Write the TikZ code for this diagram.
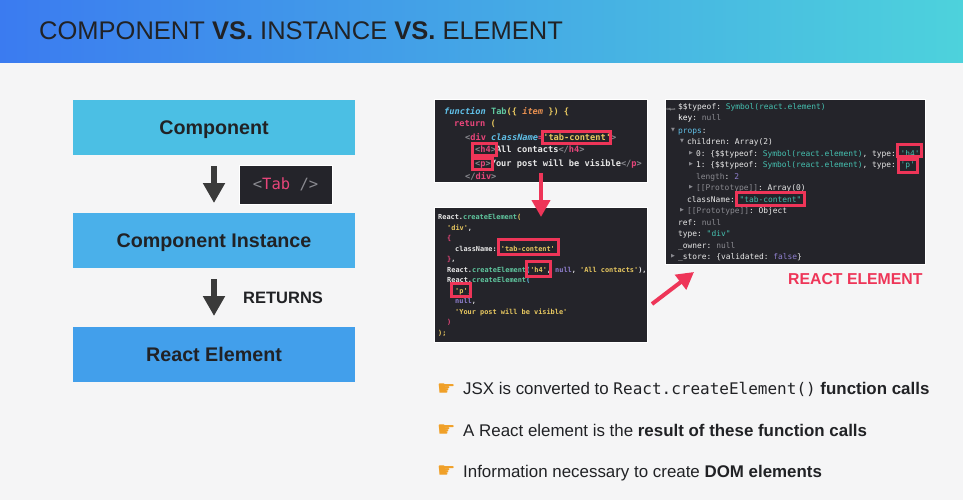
\documentclass[tikz,border=0pt]{standalone}
\usepackage{fontspec}
\setmainfont{Liberation Sans}
\setmonofont{DejaVu Sans Mono}
\newfontfamily\handfont{DejaVu Sans}
\usetikzlibrary{arrows.meta,positioning}
\definecolor{pagebg}{HTML}{F5F5F6}
\definecolor{inkdark}{HTML}{212225}
\definecolor{arrowdark}{HTML}{3A3A3A}
\definecolor{codebg}{HTML}{24242A}
\definecolor{redmark}{HTML}{EE3558}
\definecolor{handcol}{HTML}{F0A028}
\definecolor{headleft}{HTML}{3B7BF0}
\definecolor{headright}{HTML}{4DD2DC}
\definecolor{boxone}{HTML}{4BBFE4}
\definecolor{boxtwo}{HTML}{4AB0EA}
\definecolor{boxthree}{HTML}{429FEB}
\definecolor{codewhite}{HTML}{E8E8E8}
\definecolor{codeyellow}{HTML}{E8C860}
\definecolor{codegreen}{HTML}{60C8A0}
\definecolor{codepink}{HTML}{E8457A}
\definecolor{codeteal}{HTML}{45C0B0}
\definecolor{codegrey}{HTML}{8A8A90}
\definecolor{codeblue}{HTML}{60C0E8}
\definecolor{codeviolet}{HTML}{9080D0}
\definecolor{codeorange}{HTML}{E89050}
\tikzset{
	stagebox/.style={minimum width=282pt,minimum height=55pt,inner sep=0pt,text height=16pt,text depth=2pt,font=\bfseries\fontsize{19.7}{19.7}\selectfont,text=inkdark},
	codepanel/.style={draw=white,line width=1pt,fill=codebg,inner sep=0pt},
	codeline/.style={anchor=base west,inner sep=0pt,font=\ttfamily\bfseries\fontsize{#1}{#1}\selectfont,text=codewhite},
	objline/.style={anchor=base west,inner sep=0pt,font=\ttfamily\fontsize{7.9}{7.9}\selectfont,text=codewhite},
	treemark/.style={inner sep=0pt,font=\handfont\fontsize{5}{5}\selectfont,text=codegrey},
	markbox/.style={draw=redmark,line width=2.7pt,inner sep=0pt},
	flowarrow/.style={draw=arrowdark,line width=5.5pt,-{Triangle[length=20pt,width=21pt]}},
	redarrow/.style={draw=redmark,line width=4pt,-{Triangle[length=17pt,width=18pt]}},
	bullettext/.style={anchor=base west,inner sep=0pt,font=\fontsize{16.9}{16.9}\selectfont,text=inkdark},
	handmark/.style={anchor=base west,inner sep=0pt,font=\handfont\fontsize{20.5}{20.5}\selectfont,text=handcol}
}
\begin{document}
\begin{tikzpicture}[x=1pt,y=-1pt]
	\useasboundingbox (0,0) rectangle (963,500);
	\fill[pagebg] (0,0) rectangle (963,500);
	\shade[left color=headleft,right color=headright] (0,0) rectangle (963,63);
	\node[anchor=base west,inner sep=0pt,text=inkdark,font=\fontsize{25.5}{25.5}\selectfont] (title) at (39,39.5) {COMPONENT \textbf{VS.} INSTANCE \textbf{VS.} ELEMENT};
	% left column
	\node[stagebox,fill=boxone] (component) at (214,127.5) {Component};
	\node[stagebox,fill=boxtwo] (instance) at (214,240.5) {Component Instance};
	\node[stagebox,fill=boxthree] (element) at (214,354) {React Element};
	\coordinate (a1s) at (214,166);
	\coordinate (a1e) at (214,203);
	\coordinate (a2s) at (214,279);
	\coordinate (a2e) at (214,316);
	\draw[flowarrow] (a1s) -- (a1e);
	\draw[flowarrow] (a2s) -- (a2e);
	\node[codepanel,minimum width=93pt,minimum height=39pt,font=\ttfamily\fontsize{15.5}{15.5}\selectfont,text=codegrey] (tabtag) at (285.5,184.5) {<\textcolor{codepink}{Tab} />};
	\node[anchor=base west,inner sep=0pt,font=\bfseries\fontsize{16.5}{16.5}\selectfont,text=inkdark] (returns) at (243,303) {RETURNS};
	% code panels
	\node[codepanel,minimum width=213pt,minimum height=82pt] (jsxpanel) at (541,141) {};
	\node[codepanel,minimum width=213pt,minimum height=135pt] (callpanel) at (541,274.5) {};
	\node[codepanel,minimum width=260pt,minimum height=164pt] (objpanel) at (795,182) {};
	% jsx
	\node[codeline=8.65] (j1) at (444,114) {\textit{\textcolor{codeblue}{function}} \textcolor{codegreen}{Tab}\textcolor{codeyellow}{(\{} \textcolor{codeorange}{\textit{item}} \textcolor{codeyellow}{\}) \{}};
	\node[codeline=8.65] (j2) at (454,127) {\textcolor{codepink}{return} \textcolor{codeyellow}{(}};
	\node[codeline=8.65] (j3) at (465,140) {\textcolor{codegrey}{<}\textcolor{codepink}{div} \textit{\textcolor{codeblue}{className}}\textcolor{codepink}{=}\textcolor{codeyellow}{'tab-content'}\textcolor{codegrey}{>}};
	\node[codeline=8.65] (j4) at (475,153) {\textcolor{codegrey}{<}\textcolor{codepink}{h4}\textcolor{codegrey}{>}All contacts\textcolor{codegrey}{</}\textcolor{codepink}{h4}\textcolor{codegrey}{>}};
	\node[codeline=8.65] (j5) at (475,166) {\textcolor{codegrey}{<}\textcolor{codepink}{p}\textcolor{codegrey}{>}Your post will be visible\textcolor{codegrey}{</}\textcolor{codepink}{p}\textcolor{codegrey}{>}};
	\node[codeline=8.65] (j6) at (465,179) {\textcolor{codegrey}{</}\textcolor{codepink}{div}\textcolor{codegrey}{>}};
	\node[markbox,minimum width=68pt,minimum height=12pt] (jtab) at (576.5,137.5) {};
	\node[markbox,minimum width=24pt,minimum height=12pt] (jh4) at (484.5,149.5) {};
	\node[markbox,minimum width=20pt,minimum height=11pt] (jp) at (482.5,164) {};
	% createElement
	\node[codeline=6.9] (c1) at (438,219) {React.\textcolor{codegreen}{createElement}\textcolor{codeyellow}{(}};
	\node[codeline=6.9] (c2) at (447,230) {\textcolor{codeyellow}{'div'},};
	\node[codeline=6.9] (c3) at (447,240) {\textcolor{codepink}{\{}};
	\node[codeline=6.9] (c4) at (455,251) {className: \textcolor{codeyellow}{'tab-content'}};
	\node[codeline=6.9] (c5) at (447,261) {\textcolor{codepink}{\}},};
	\node[codeline=6.9] (c6) at (447,272) {React.\textcolor{codegreen}{createElement}\textcolor{codeblue}{(}\textcolor{codeyellow}{'h4'}, \textcolor{codeviolet}{null}, \textcolor{codeyellow}{'All contacts'}),};
	\node[codeline=6.9] (c7) at (447,282) {React.\textcolor{codegreen}{createElement}\textcolor{codeblue}{(}};
	\node[codeline=6.9] (c8) at (455,293) {\textcolor{codeyellow}{'p'},};
	\node[codeline=6.9] (c9) at (455,303) {\textcolor{codeviolet}{null},};
	\node[codeline=6.9] (c10) at (455,314) {\textcolor{codeyellow}{'Your post will be visible'}};
	\node[codeline=6.9] (c11) at (447,324) {\textcolor{codepink}{)}};
	\node[codeline=6.9] (c12) at (438,335) {\textcolor{codeyellow}{);}};
	\node[markbox,minimum width=60pt,minimum height=15pt] (ctab) at (528.5,247) {};
	\node[markbox,minimum width=24pt,minimum height=15pt] (ch4) at (538.5,269) {};
	\node[markbox,minimum width=19pt,minimum height=13pt] (cp) at (461,290) {};
	% object
	\node[inner sep=0pt,font=\fontsize{3}{3}\selectfont,text=codewhite] (objtag) at (671,110) {Object};
	\node[objline] (o1) at (678,110) {\$\$typeof: \textcolor{codeteal}{Symbol(react.element)}};
	\node[objline] (o2) at (678,121) {\textcolor{white}{key}: \textcolor{codegrey}{null}};
	\node[objline] (o3) at (678,133) {\textcolor{codeblue}{props}:};
	\node[objline] (o4) at (687,144) {children: Array(2)};
	\node[objline] (o5) at (696,156) {0: \{\$\$typeof: \textcolor{codeteal}{Symbol(react.element)}, type: \textcolor{codeteal}{'h4'},};
	\node[objline] (o6) at (696,167) {1: \{\$\$typeof: \textcolor{codeteal}{Symbol(react.element)}, type: \textcolor{codeteal}{'p'}};
	\node[objline] (o7) at (696,179) {\textcolor{codegrey}{length}: \textcolor{codeviolet}{2}};
	\node[objline] (o8) at (696,190) {\textcolor{codegrey}{[[Prototype]]}: Array(0)};
	\node[objline] (o9) at (687,202) {className: \textcolor{codeteal}{"tab-content"}};
	\node[objline] (o10) at (687,213) {\textcolor{codegrey}{[[Prototype]]}: Object};
	\node[objline] (o11) at (678,225) {ref: \textcolor{codegrey}{null}};
	\node[objline] (o12) at (678,236) {type: \textcolor{codeteal}{"div"}};
	\node[objline] (o13) at (678,248) {\_owner: \textcolor{codegrey}{null}};
	\node[objline] (o14) at (678,259) {\_store: \{validated: \textcolor{codeviolet}{false}\}};
	\node[treemark] (t3) at (673,130) {\symbol{"25BC}};
	\node[treemark] (t4) at (682,141) {\symbol{"25BC}};
	\node[treemark] (t5) at (691,153) {\symbol{"25B6}};
	\node[treemark] (t6) at (691,164) {\symbol{"25B6}};
	\node[treemark] (t8) at (691,187) {\symbol{"25B6}};
	\node[treemark] (t10) at (682,210) {\symbol{"25B6}};
	\node[treemark] (t14) at (673,256) {\symbol{"25B6}};
	\node[markbox,minimum width=24pt,minimum height=12pt] (oh4) at (909.5,150.5) {};
	\node[markbox,minimum width=19pt,minimum height=13pt] (op) at (908,166) {};
	\node[markbox,minimum width=68pt,minimum height=13pt] (otab) at (770.5,199) {};
	\node[anchor=base west,inner sep=0pt,font=\bfseries\fontsize{15.8}{15.8}\selectfont,text=redmark] (reactlabel) at (788,284) {REACT ELEMENT};
	% red arrows
	\coordinate (r1s) at (541,173);
	\coordinate (r1e) at (541,217);
	\coordinate (r2s) at (652,304);
	\coordinate (r2e) at (694,272);
	\draw[redarrow] (r1s) -- (r1e);
	\draw[redarrow] (r2s) -- (r2e);
	% notes
	\node[handmark] (h1) at (437,395) {\symbol{"261B}};
	\node[handmark] (h2) at (437,436) {\symbol{"261B}};
	\node[handmark] (h3) at (437,477) {\symbol{"261B}};
	\node[bullettext] (n1) at (463,394) {JSX is converted to {\ttfamily\fontsize{16}{16}\selectfont React.createElement()} \textbf{function calls}};
	\node[bullettext] (n2) at (463,436) {A React element is the \textbf{result of these function calls}};
	\node[bullettext] (n3) at (463,477) {Information necessary to create \textbf{DOM elements}};
\end{tikzpicture}
\end{document}
